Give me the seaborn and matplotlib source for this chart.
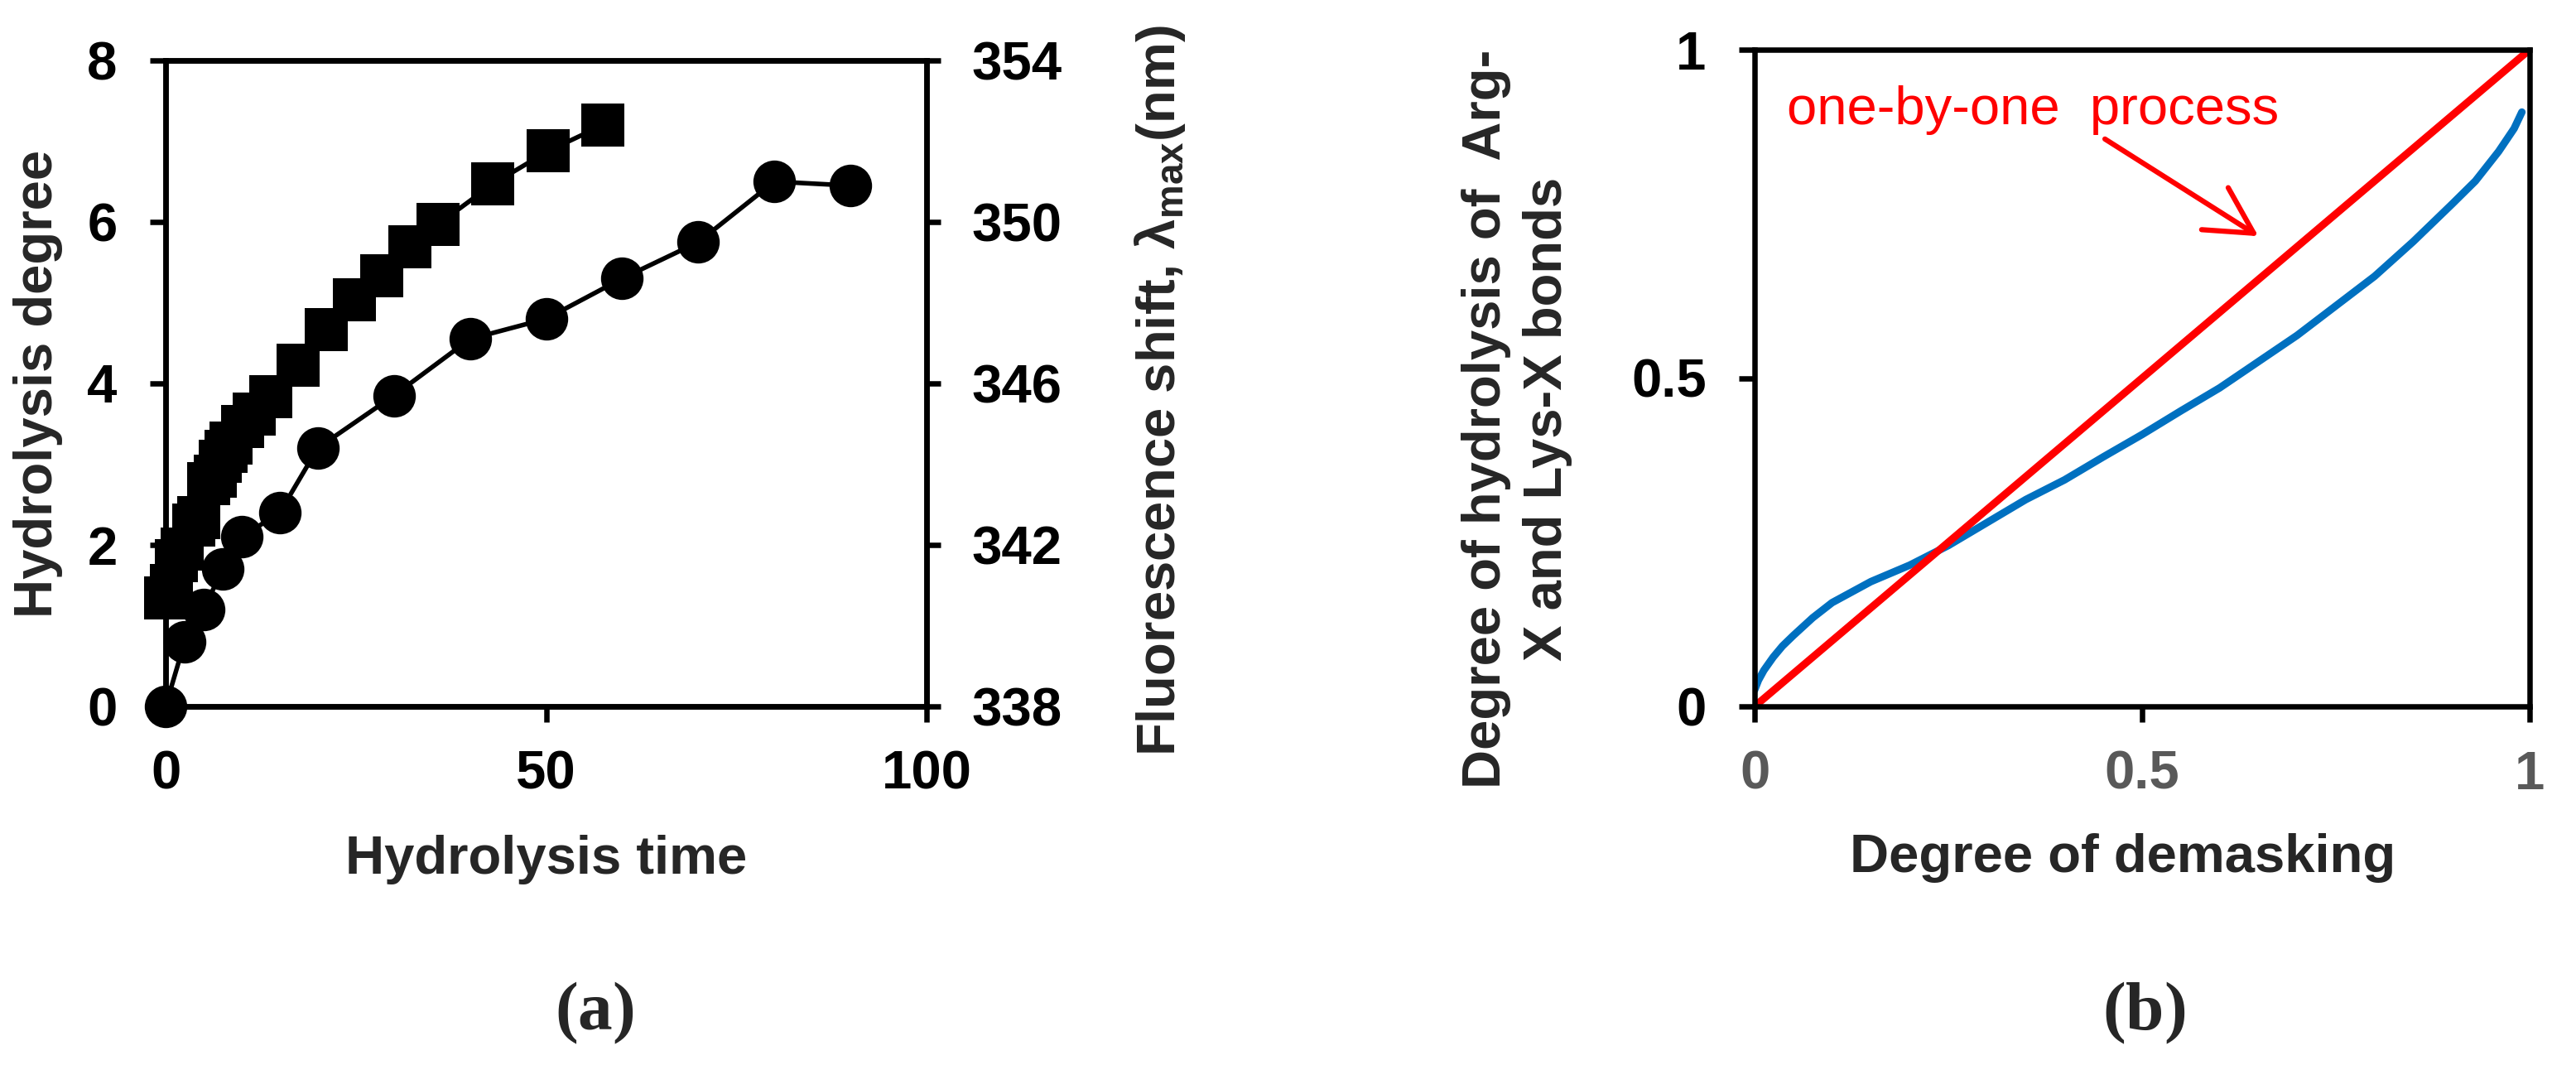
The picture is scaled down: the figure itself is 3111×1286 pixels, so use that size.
import matplotlib
matplotlib.use("Agg")
import matplotlib.pyplot as plt
import seaborn as sns

sns.set_theme(style="ticks")
plt.rcParams['font.family'] = ['Liberation Sans', 'DejaVu Sans']
plt.rcParams['font.weight'] = 'bold'
plt.rcParams['mathtext.fontset'] = 'custom'
plt.rcParams['mathtext.rm'] = 'Liberation Serif'
plt.rcParams['mathtext.bf'] = 'Liberation Serif:bold'

# %% data
# (a) squares: hydrolysis degree (left axis)
sq_time = [0, 0.8, 1.4, 2.2, 3.7, 4.3, 5.7, 6.5, 7.2, 7.9, 8.6, 10.1, 11.6,
           13.8, 17.4, 21.1, 24.8, 28.4, 32.1, 35.8, 43.0, 50.3, 57.5]
sq_degree = [1.34, 1.50, 1.81, 1.95, 2.25, 2.34, 2.76, 2.85, 3.04, 3.16, 3.26, 3.47, 3.62,
             3.84, 4.23, 4.67, 5.04, 5.33, 5.69, 5.97, 6.47, 6.88, 7.20]
# (a) circles: fluorescence shift (right axis)
circ_time = [0, 2.5, 5, 7.5, 10, 15, 20, 30, 40, 50, 60, 70, 80, 90]
circ_shift = [338.0, 339.6, 340.4, 341.4, 342.2, 342.8, 344.4, 345.7, 347.1,
              347.6, 348.6, 349.5, 351.0, 350.9]
a_xticks = [0, 50, 100]
a_yticks = [0, 2, 4, 6, 8]
a_y2ticks = [338, 342, 346, 350, 354]

# (b) blue curve and the one-by-one line
demask = [0, 0.005, 0.012, 0.024, 0.036, 0.05, 0.075, 0.1, 0.15, 0.2, 0.25, 0.3,
          0.35, 0.4, 0.45, 0.5, 0.55, 0.6, 0.65, 0.7, 0.75, 0.8, 0.85, 0.9,
          0.93, 0.96, 0.98, 0.99]
hydro = [0.025, 0.04, 0.055, 0.075, 0.092, 0.108, 0.135, 0.158, 0.19, 0.215,
         0.245, 0.28, 0.315, 0.345, 0.38, 0.414, 0.45, 0.485, 0.525, 0.565,
         0.61, 0.655, 0.708, 0.765, 0.80, 0.845, 0.88, 0.905]
one_by_one = [0, 1]
b_ticks = [0, 0.5, 1]
b_ticklabels = ['0', '0.5', '1']

# %% figure in pixel units
W, H = 3111, 1286
fig = plt.figure(figsize=(W / 100, H / 100), dpi=100)


def box(l, t, r, b):
    return [l / W, 1 - b / H, (r - l) / W, (b - t) / H]


def fx(px):
    return px / W


def fy(py):
    return 1 - py / H


LW = 4.7
FS = 47

# ---------------- panel (a)
ax1 = fig.add_axes(box(200, 73, 1119, 853))
ax2 = ax1.twinx()

sns.lineplot(x=sq_time, y=sq_degree, ax=ax1, color='black', marker='s',
             markersize=37, markeredgewidth=0, linewidth=4, clip_on=False)
sns.lineplot(x=circ_time, y=circ_shift, ax=ax2, color='black', marker='o',
             markersize=37, markeredgewidth=0, linewidth=4, clip_on=False)

ax1.set_xlim(0, 100)
ax1.set_ylim(0, 8)
ax2.set_ylim(338, 354)
ax1.set_xticks(a_xticks)
ax1.set_yticks(a_yticks)
ax2.set_yticks(a_y2ticks)
ax1.set_xlabel('')
ax1.set_ylabel('')
ax2.set_ylabel('')

for ax in (ax1, ax2):
    for s in ax.spines.values():
        s.set_linewidth(LW)
        s.set_color('black')
ax1.tick_params(axis='y', direction='out', length=14, width=LW, pad=28,
                labelsize=FS, colors='black')
ax1.tick_params(axis='x', direction='out', length=14, width=LW, pad=24,
                labelsize=FS, colors='black')
ax2.tick_params(axis='y', direction='out', length=12, width=LW, pad=27,
                labelsize=FS, colors='black')

fig.text(fx(46), fy(463), 'Hydrolysis degree', rotation=90, fontsize=FS,
         ha='center', va='center')
fig.text(fx(1401), fy(471), 'Fluorescence shift, λ$_{\\mathregular{max}}$(nm)',
         rotation=90, fontsize=FS, ha='center', va='center')
fig.text(fx(659.5), fy(1055), 'Hydrolysis time', fontsize=FS,
         ha='center', va='baseline')

# ---------------- panel (b)
ax3 = fig.add_axes(box(2119, 60, 3055, 853))
sns.lineplot(x=demask, y=hydro, ax=ax3, color='#0070C0', linewidth=6.5)
sns.lineplot(x=one_by_one, y=one_by_one, ax=ax3, color='#FF0000', linewidth=6.5)
ax3.set_xlim(0, 1)
ax3.set_ylim(0, 1)
ax3.set_xticks(b_ticks, b_ticklabels)
ax3.set_yticks(b_ticks, b_ticklabels)
ax3.set_xlabel('')
ax3.set_ylabel('')
for s in ax3.spines.values():
    s.set_linewidth(LW)
    s.set_color('black')
ax3.tick_params(axis='y', direction='out', length=14, width=LW, pad=28,
                labelsize=FS, colors='black')
ax3.tick_params(axis='x', direction='out', length=14, width=LW, pad=24,
                labelsize=FS, colors='black', labelcolor='#595959')

ax3.text(0.042, 0.887, 'one-by-one  process', color='#FF0000', fontsize=FS,
         fontweight='normal', ha='left', va='baseline')
ax3.annotate('', xy=(0.650, 0.716), xytext=(0.452, 0.864),
             arrowprops=dict(arrowstyle='->,head_length=1.0,head_width=0.54',
                             color='#FF0000', lw=4.5, mutation_scale=40,
                             shrinkA=0, shrinkB=0))

fig.text(fx(1832), fy(506), 'Degree of hydrolysis of  Arg-\nX and Lys-X bonds',
         rotation=90, fontsize=FS, ha='center', va='center',
         multialignment='center', linespacing=1.3)
fig.text(fx(2564), fy(1053), 'Degree of demasking', fontsize=FS,
         ha='center', va='baseline')

# ---------------- captions
fig.text(fx(718), fy(1223), r'$\mathrm{(}\mathbf{a}\mathrm{)}$', fontsize=60,
         ha='center', va='center')
fig.text(fx(2589), fy(1223), r'$\mathrm{(}\mathbf{b}\mathrm{)}$', fontsize=60,
         ha='center', va='center')

fig.savefig('out.png', dpi=100, facecolor='white')
